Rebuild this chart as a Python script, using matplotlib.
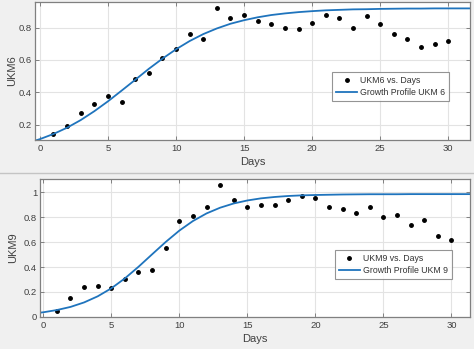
import numpy as np
import matplotlib
matplotlib.use('Agg')
import matplotlib.pyplot as plt

plt.rcParams['font.family'] = ['Liberation Sans', 'DejaVu Sans']

days = list(range(1, 31))
ukm6 = [0.14, 0.19, 0.27, 0.33, 0.38, 0.34, 0.48, 0.52, 0.61, 0.67,
        0.76, 0.73, 0.92, 0.86, 0.88, 0.84, 0.82, 0.80, 0.79, 0.83,
        0.88, 0.86, 0.80, 0.87, 0.82, 0.76, 0.73, 0.68, 0.70, 0.72]
ukm9 = [0.048, 0.15, 0.24, 0.25, 0.23, 0.30, 0.36, 0.38, 0.55, 0.77,
        0.81, 0.885, 1.055, 0.94, 0.88, 0.90, 0.90, 0.94, 0.97, 0.955,
        0.88, 0.865, 0.835, 0.88, 0.80, 0.82, 0.74, 0.775, 0.65, 0.62]

# fitted growth profiles, sampled once per day
fit_days = list(range(-1, 33))
fit6 = [0.084, 0.110, 0.142, 0.181, 0.228, 0.283, 0.344, 0.410, 0.477,
        0.545, 0.608, 0.666, 0.717, 0.760, 0.795, 0.824, 0.846, 0.864,
        0.878, 0.888, 0.896, 0.902, 0.907, 0.910, 0.913, 0.914, 0.916,
        0.917, 0.918, 0.918, 0.919, 0.919, 0.919, 0.919]
fit9 = [0.025, 0.037, 0.055, 0.080, 0.116, 0.165, 0.229, 0.309, 0.402,
        0.502, 0.601, 0.692, 0.769, 0.830, 0.876, 0.910, 0.934, 0.951,
        0.962, 0.970, 0.975, 0.978, 0.980, 0.982, 0.983, 0.984, 0.984,
        0.984, 0.985, 0.985, 0.985, 0.985, 0.985, 0.985]

BG = '#f0f0f0'
BLUE = '#1f74bd'
FRAME = '#808080'
TXT = '#404040'

fig = plt.figure(figsize=(4.74, 3.49), dpi=100, facecolor=BG)

# thin divider between the two panels
fig.add_artist(plt.Line2D([0, 1], [0.504, 0.504], color='#c4c4c4', lw=1.0))

panels = [
    dict(rect=[0.0738, 0.599, 0.918, 0.395], y=ukm6, fit=fit6, name='UKM6',
         fitname='Growth Profile UKM 6', ylim=(0.105, 0.958), xlim=(-0.36, 31.6),
         yticks=[0.2, 0.4, 0.6, 0.8], leg=(0.683, 0.283), ylab_x=-0.041),
    dict(rect=[0.0844, 0.092, 0.908, 0.395], y=ukm9, fit=fit9, name='UKM9',
         fitname='Growth Profile UKM 9', ylim=(0.0, 1.106), xlim=(-0.24, 31.4),
         yticks=[0, 0.2, 0.4, 0.6, 0.8, 1], leg=(0.685, 0.275), ylab_x=-0.051),
]

for p in panels:
    ax = fig.add_axes(p['rect'])
    ax.set_facecolor('white')
    ax.plot(days, p['y'], 'o', color='black', ms=2.5, label=p['name'] + ' vs. Days')
    ax.plot(fit_days, p['fit'], color=BLUE, lw=1.3, label=p['fitname'])
    ax.set_xlim(*p['xlim'])
    ax.set_ylim(*p['ylim'])
    ax.set_xticks([0, 5, 10, 15, 20, 25, 30])
    ax.set_yticks(p['yticks'])
    ax.set_yticklabels([f'{v:g}' for v in p['yticks']])
    ax.grid(True, color='#e3e3e3', lw=0.8)
    ax.set_axisbelow(True)
    for s in ax.spines.values():
        s.set_color(FRAME)
        s.set_linewidth(0.9)
    ax.tick_params(direction='in', length=3, width=0.7, color=FRAME,
                   top=True, right=True, labelsize=6.8, labelcolor=TXT)
    ax.tick_params(axis='y', pad=2)
    ax.tick_params(axis='x', pad=3)
    ax.set_xlabel('Days', fontsize=8, color=TXT, labelpad=3)
    ax.set_ylabel(p['name'], fontsize=8, color=TXT)
    ax.yaxis.set_label_coords(p['ylab_x'], 0.5)
    leg = ax.legend(loc='lower left', bbox_to_anchor=p['leg'], fontsize=6.3,
                    frameon=True, fancybox=False, edgecolor='#7a7a7a',
                    borderpad=0.45, handlelength=2.4, handletextpad=0.35,
                    labelspacing=0.35, borderaxespad=0)
    leg.get_frame().set_linewidth(0.8)
    for t in leg.get_texts():
        t.set_color('#333333')

fig.savefig('out.png', dpi=100, facecolor=BG)
